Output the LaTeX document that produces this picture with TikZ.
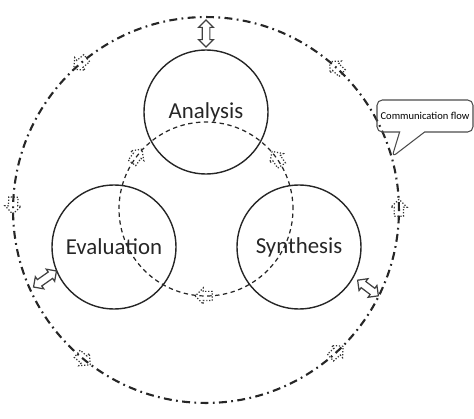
\documentclass[tikz,border=0pt]{standalone}
\usepackage{fontspec}
\setmainfont{Carlito}
\usetikzlibrary{shapes}
\usetikzlibrary{shapes.arrows,shapes.callouts}

\begin{document}
\begin{tikzpicture}[x=0.02cm,y=-0.02cm,
		stage/.style={circle,draw=black!85,line width=0.8pt,minimum size=2.48cm,inner sep=0pt,font=\fontsize{13}{15}\selectfont,text=black!85},
		ring/.style={circle,minimum size=#1,inner sep=0pt,outer sep=0pt},
		flow/.style={single arrow,draw=black!80,densely dotted,line width=0.7pt,inner sep=0.08cm,minimum height=0.34cm,single arrow head extend=0.07cm,single arrow head indent=0pt},
		link/.style={double arrow,draw=black!75,line width=0.7pt,inner sep=0.065cm,double arrow head extend=0.07cm}]
		\useasboundingbox (0,0) rectangle (474,419);
		\node[ring=7.72cm,draw=black!85,line width=1.2pt,dash pattern=on 4.5pt off 2.5pt on 1pt off 2.5pt] (outer) at (206,210) {};
		\node[ring=3.48cm,draw=black!85,line width=0.7pt,dash pattern=on 2.5pt off 2pt] (inner) at (206,209) {};
		\node[stage] (analysis) at (206,112) {Analysis};
		\node[stage] (evaluation) at (114,247) {Evaluation};
		\node[stage] (synthesis) at (299,247) {Synthesis};
		% flow round the outer ring
		\foreach \a in {130,47,0,178,230,312}
			\node[flow,rotate=\a+90] (out\a) at (outer.\a) {};
		% flow round the inner ring
		\node[flow,rotate=54] (in1) at (inner.144) {};
		\node[flow,rotate=124] (in2) at (inner.34) {};
		\node[flow,rotate=180] (in3) at (inner.270) {};
		% links between the stages and the outer ring
		\node[link,rotate=90,minimum height=0.54cm] (toplink) at (206,33.5) {};
		\node[link,rotate=35,minimum height=0.56cm] (leftlink) at (45,279) {};
		\node[link,rotate=-37,minimum height=0.52cm] (rightlink) at (368,288) {};
		\coordinate (flowtip) at (392,157);
		\node[rectangle callout,draw=black!70,rounded corners=3pt,line width=0.6pt,minimum width=1.92cm,minimum height=0.64cm,inner sep=1pt,font=\fontsize{6}{7}\selectfont,callout absolute pointer={(flowtip)},callout pointer width=0.5cm] (note) at (425,116) {Communication flow};
\end{tikzpicture}
\end{document}
